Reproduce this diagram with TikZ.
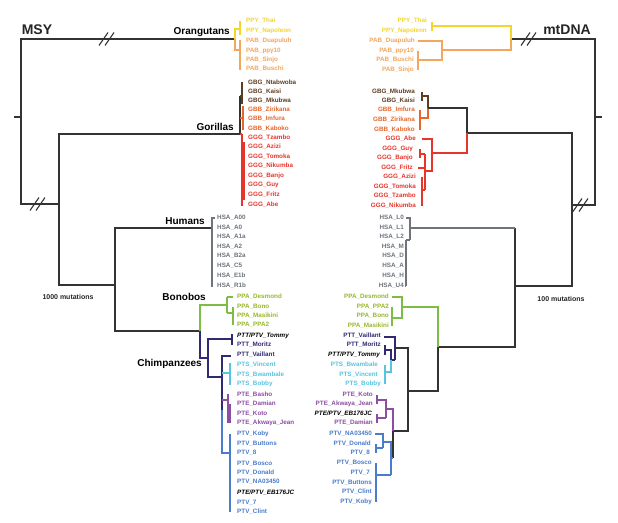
\documentclass[tikz,border=0pt]{standalone}
\usepackage{fontspec}
\setmainfont{Liberation Sans}
\definecolor{treeblack}{HTML}{333333}
\definecolor{cppy}{HTML}{F5D52A}
\definecolor{cpab}{HTML}{F4A65C}
\definecolor{cgbg}{HTML}{5E3E22}
\definecolor{cgbb}{HTML}{E7662C}
\definecolor{cggg}{HTML}{E8352B}
\definecolor{chsa}{HTML}{6E737C}
\definecolor{cppat}{HTML}{97B82A}
\definecolor{cppa}{HTML}{7DBD45}
\definecolor{cptt}{HTML}{302A72}
\definecolor{cpts}{HTML}{58C4E0}
\definecolor{cpte}{HTML}{8B4EA3}
\definecolor{cptv}{HTML}{4A7CCC}
\tikzset{
  lbl/.style={font=\fontsize{6.3}{7}\selectfont\bfseries, inner sep=0pt},
  leafL/.style={lbl, anchor=west},
  leafR/.style={lbl, anchor=east},
  grp/.style={font=\fontsize{10}{12}\selectfont\bfseries, inner sep=0pt, anchor=east, text=black},
  ttl/.style={font=\fontsize{14}{16}\selectfont\bfseries, inner sep=0pt, text=black!85},
  mut/.style={font=\fontsize{7}{8}\selectfont\bfseries, inner sep=0pt, text=black!85},
  tree/.style={line width=1.1pt, draw=treeblack},
  br/.style={line width=1.1pt},
  spec/.style={lbl, text=black, font=\fontsize{6.3}{7}\selectfont\bfseries\itshape},
}
\newcommand\brkmark[2]{\draw[tree] ({#1-7},{#2+6.5}) -- ({#1+2},{#2-6.5}) ({#1-1},{#2+6.5}) -- ({#1+8},{#2-6.5});}
\begin{document}
\begin{tikzpicture}[x=1pt,y=-1pt]
\fill[white] (0,0) rectangle (618,522);
\useasboundingbox (0,0) rectangle (618,522);

% ---------- titles ----------
\node[ttl] (msy) at (37,30) {MSY};
\node[ttl] (mt) at (567,30) {mtDNA};
\node[mut] (m1000) at (68,297) {1000 mutations};
\node[mut] (m100) at (561,299) {100 mutations};

\node[grp] (gOr) at (230,32) {Orangutans};
\node[grp] (gGo) at (234,127) {Gorillas};
\node[grp] (gHu) at (205,221) {Humans};
\node[grp] (gBo) at (206,297) {Bonobos};
\node[grp] (gCh) at (202,364) {Chimpanzees};

% ---------- left leaves ----------
\foreach \t/\y/\c in {PPY\_Thai/21/cppy, PPY\_Napoleon/31/cppy, PAB\_Duapuluh/41/cpab, PAB\_ppy10/51/cpab, PAB\_Sinjo/60/cpab, PAB\_Buschi/69/cpab}
  \node[leafL, text=\c] (lo\y) at (246,\y) {\t};
\foreach \t/\y/\c in {GBG\_Ntabwoba/83/cgbg, GBG\_Kaisi/92/cgbg, GBG\_Mkubwa/101/cgbg, GBB\_Zirikana/110/cgbb, GBB\_Imfura/119/cgbb, GBB\_Kaboko/129/cgbb, GGG\_Tzambo/138/cggg, GGG\_Azizi/147/cggg, GGG\_Tomoka/157/cggg, GGG\_Nikumba/166/cggg, GGG\_Banjo/176/cggg, GGG\_Guy/185/cggg, GGG\_Fritz/195/cggg, GGG\_Abe/205/cggg}
  \node[leafL, text=\c] (lg\y) at (248,\y) {\t};
\foreach \t/\y in {HSA\_A00/218, HSA\_A0/228, HSA\_A1a/237, HSA\_A2/247, HSA\_B2a/256, HSA\_C5/266, HSA\_E1b/276, HSA\_R1b/286}
  \node[leafL, text=chsa] (lh\y) at (217,\y) {\t};
\foreach \t/\y in {PPA\_Desmond/297, PPA\_Bono/307, PPA\_Masikini/316, PPA\_PPA2/325}
  \node[leafL, text=cppat] (lb\y) at (237,\y) {\t};
\node[spec, anchor=west] (lc336) at (237,336) {PTT/PTV\_Tommy};
\foreach \t/\y/\c in {PTT\_Moritz/345/cptt, PTT\_Vaillant/355/cptt, PTS\_Vincent/365/cpts, PTS\_Bwambale/375/cpts, PTS\_Bobby/384/cpts, PTE\_Basho/395/cpte, PTE\_Damian/404/cpte, PTE\_Koto/414/cpte, PTE\_Akwaya\_Jean/423/cpte, PTV\_Koby/434/cptv, PTV\_Buttons/444/cptv, PTV\_8/453/cptv, PTV\_Bosco/464/cptv, PTV\_Donald/473/cptv, PTV\_NA03450/482/cptv, PTV\_7/503/cptv, PTV\_Clint/512/cptv}
  \node[leafL, text=\c] (lc\y) at (237,\y) {\t};
\node[spec, anchor=west] (lc493) at (237,493) {PTE/PTV\_EB176JC};

% ---------- right leaves ----------
\node[leafR, text=cppy] (ro21) at (427,21) {PPY\_Thai};
\node[leafR, text=cppy] (ro31) at (427,31) {PPY\_Napoleon};
\node[leafR, text=cpab] (ro41) at (415,41) {PAB\_Duapuluh};
\node[leafR, text=cpab] (ro51) at (414,51) {PAB\_ppy10};
\node[leafR, text=cpab] (ro60) at (414,60) {PAB\_Buschi};
\node[leafR, text=cpab] (ro70) at (414,70) {PAB\_Sinjo};
\foreach \t/\y/\c/\x in {GBG\_Mkubwa/92/cgbg/415, GBG\_Kaisi/101/cgbg/415, GBB\_Imfura/110/cgbb/415, GBB\_Zirikana/120/cgbb/415, GBB\_Kaboko/130/cgbb/415, GGG\_Abe/139/cggg/416, GGG\_Guy/149/cggg/413, GGG\_Banjo/158/cggg/413, GGG\_Fritz/168/cggg/413, GGG\_Azizi/177/cggg/416, GGG\_Tomoka/187/cggg/416, GGG\_Tzambo/196/cggg/416, GGG\_Nikumba/206/cggg/416}
  \node[leafR, text=\c] (rg\y) at (\x,\y) {\t};
\foreach \t/\y in {HSA\_L0/218, HSA\_L1/228, HSA\_L2/237, HSA\_M/247, HSA\_D/256, HSA\_A/266, HSA\_H/276, HSA\_U4/286}
  \node[leafR, text=chsa] (rh\y) at (404,\y) {\t};
\foreach \t/\y in {PPA\_Desmond/297, PPA\_PPA2/307, PPA\_Bono/316, PPA\_Masikini/326}
  \node[leafR, text=cppat] (rb\y) at (389,\y) {\t};
\foreach \t/\y/\c/\x in {PTT\_Vaillant/336/cptt/381, PTT\_Moritz/345/cptt/381, PTS\_Bwambale/365/cpts/378, PTS\_Vincent/375/cpts/378, PTS\_Bobby/384/cpts/381, PTE\_Koto/395/cpte/373, PTE\_Akwaya\_Jean/404/cpte/373, PTE\_Damian/423/cpte/373, PTV\_NA03450/434/cptv/372, PTV\_Donald/444/cptv/371, PTV\_8/453/cptv/370, PTV\_Bosco/463/cptv/372, PTV\_7/473/cptv/370, PTV\_Buttons/483/cptv/372, PTV\_Clint/492/cptv/372, PTV\_Koby/502/cptv/372}
  \node[leafR, text=\c] (rc\y) at (\x,\y) {\t};
\node[spec, anchor=east] (rc355) at (380,355) {PTT/PTV\_Tommy};
\node[spec, anchor=east] (rc414) at (372,414) {PTE/PTV\_EB176JC};

% ================= LEFT TREE (MSY) =================
\draw[tree] (235,39) -- (21,39) -- (21,204) -- (59,204);
\draw[tree] (14,117) -- (21,117);
\brkmark{106}{39}
\brkmark{37}{204}
\draw[tree] (240,134) -- (59,134) -- (59,285) -- (115,285);
\draw[tree] (212,228) -- (115,228) -- (115,331) -- (200,331);
% orangutans
\draw[br, cppy] (235,39) -- (235,29) -- (240,29);
\draw[br, cppy] (240,21) -- (240,35);
\draw[br, cpab] (235,39) -- (235,50) -- (240,50);
\draw[br, cpab] (240,40) -- (240,70);
% gorillas
\draw[tree] (240,96) -- (240,134);
\draw[br, cgbg] (240,96) -- (242,96);
\draw[br, cgbg] (242,82) -- (242,104);
\draw[br, cgbb] (240,118) -- (243,118);
\draw[br, cgbb] (243,106) -- (243,130);
\draw[br, cggg] (240,134) -- (242,134);
\draw[br, cggg] (242,134) -- (242,206);
\draw[br, cggg] (244,142) -- (244,200);
% humans
\draw[br, chsa] (212,217) -- (212,287);
\draw[br, chsa] (212,218) -- (215,218);
% bonobos + chimps
\draw[br, cppa] (200,331) -- (200,305) -- (227,305);
\draw[br, cppa] (227,297) -- (227,313);
\draw[br, cppa] (227,297) -- (233,297);
\draw[br, cppa] (227,313) -- (233,313);
\draw[br, cppa] (233,307) -- (233,325);
\draw[br, cptt] (200,331) -- (200,358) -- (208,358);
\draw[br, cptt] (232,339) -- (208,339) -- (208,377) -- (222,377);
\draw[br, cptt] (232,334) -- (232,345);
\draw[br, cptt] (231,356) -- (222,356) -- (222,410);
\draw[br, cpts] (222,373) -- (230,373);
\draw[br, cpts] (230,363) -- (230,385);
\draw[br, cpte] (222,400) -- (228,400);
\draw[br, cpte] (228,394) -- (228,423);
\draw[br, cpte] (230,404) -- (230,423);
\draw[br, cptv] (222,410) -- (222,453) -- (230,453);
\draw[br, cptv] (230,434) -- (230,512);

% ================= RIGHT TREE (mtDNA) =================
\draw[tree] (511,39) -- (595,39) -- (595,205) -- (572,205);
\draw[tree] (595,117) -- (602,117);
\brkmark{528}{39}
\brkmark{580}{205}
\draw[tree] (467,133) -- (572,133) -- (572,286) -- (515,286);
\draw[tree] (515,228) -- (515,347) -- (438,347);
\draw[tree] (438,347) -- (438,391) -- (408,391);
\draw[tree] (395,348) -- (408,348) -- (408,431) -- (393,431);
\draw[tree] (393,431) -- (393,458);
% orangutans
\draw[br, cppy] (432,21.5) -- (432,31);
\draw[br, cppy] (432,26) -- (511,26) -- (511,39);
\draw[br, cpab] (511,39) -- (511,50) -- (442,50);
\draw[br, cpab] (418,41) -- (442,41) -- (442,60) -- (418,60);
\draw[br, cpab] (418,51) -- (418,70);
% gorillas
\draw[br, cgbg] (422,92) -- (422,101);
\draw[br, cgbg] (422,96) -- (428,96) -- (428,108);
\draw[br, cgbb] (420,110) -- (420,130);
\draw[br, cgbb] (420,118) -- (428,118) -- (428,108);
\draw[tree] (428,108) -- (467,108) -- (467,133);
\draw[br, cggg] (467,133) -- (467,153) -- (432,153);
\draw[br, cggg] (422,139) -- (432,139) -- (432,171) -- (425,171);
\draw[br, cggg] (425,154) -- (425,190);
\draw[br, cggg] (420,149) -- (420,158);
\draw[br, cggg] (420,154) -- (425,154);
\draw[br, cggg] (418,168) -- (425,168);
\draw[br, cggg] (422,177) -- (422,206);
\draw[br, cggg] (422,190) -- (425,190);
% humans
\draw[br, chsa] (406,218) -- (410,218) -- (410,240);
\draw[br, chsa] (410,228) -- (515,228);
\draw[br, chsa] (406,240) -- (410,240);
\draw[br, chsa] (406,240) -- (406,286);
\foreach \y in {247,256,266,276,286} \draw[br, chsa] (405,\y) -- (406,\y);
% bonobos
\draw[br, cppa] (392,297) -- (402,297) -- (402,318) -- (392,318);
\draw[br, cppa] (392,307) -- (392,326);
\draw[br, cppa] (402,307) -- (438,307) -- (438,347);
% chimps
\draw[br, cptt] (384,337) -- (395,337) -- (395,360);
\draw[br, cptt] (385,345) -- (385,355);
\draw[br, cptt] (385,350) -- (391,350) -- (391,360) -- (395,360);
\draw[br, cpts] (391,360) -- (391,372) -- (385,372);
\draw[br, cpts] (385,365) -- (385,384);
\draw[br, cpte] (377,395) -- (377,404);
\draw[br, cpte] (377,400) -- (386,400) -- (386,418);
\draw[br, cpte] (377,414) -- (377,423);
\draw[br, cpte] (377,418) -- (386,418);
\draw[br, cpte] (386,409) -- (393,409) -- (393,431);
\draw[br, cptv] (375,434) -- (383,434) -- (383,448);
\draw[br, cptv] (376,444) -- (376,453);
\draw[br, cptv] (376,448) -- (383,448);
\draw[br, cptv] (383,442) -- (391,442) -- (391,475);
\draw[br, cptv] (376,463) -- (376,502);
\draw[br, cptv] (376,475) -- (391,475);
\draw[br, cptv] (391,458) -- (393,458);
\end{tikzpicture}
\end{document}
